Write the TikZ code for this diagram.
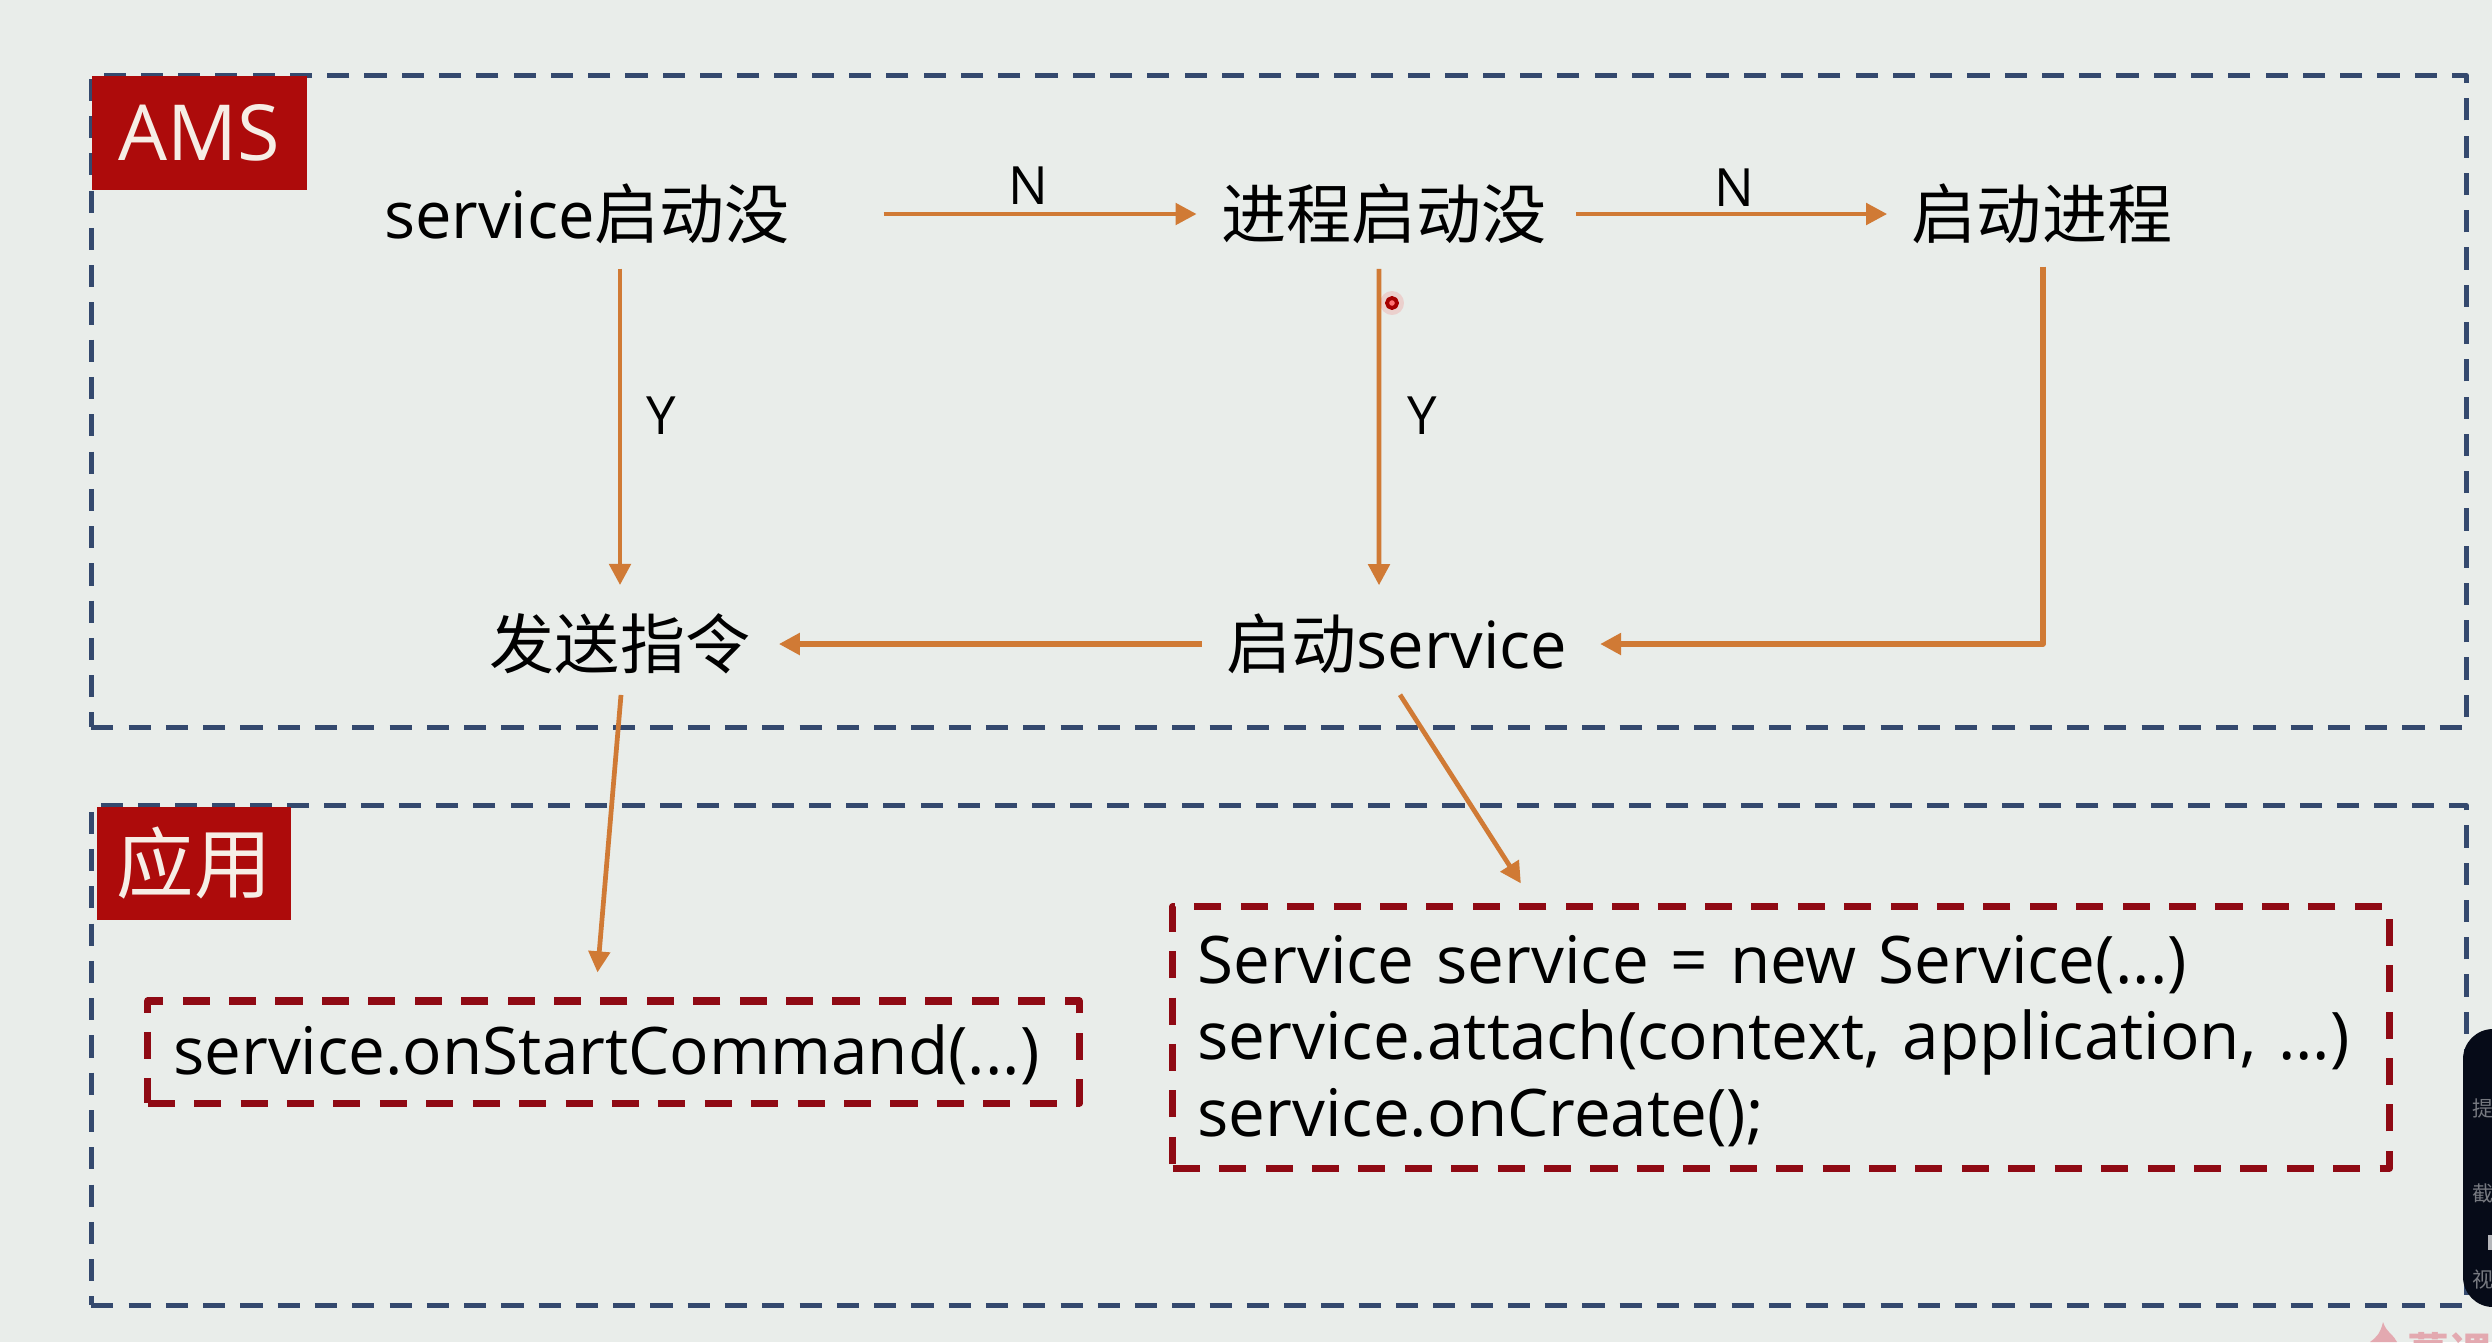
\documentclass[tikz,border=0pt]{standalone}
\usepackage{fontspec}
\usetikzlibrary{arrows.meta}
\setmainfont{Open Sans}
\newfontfamily\cjk{Noto Sans CJK SC}
\newcommand{\zh}[1]{{\cjk #1}}
\newcommand{\codestrut}{\rule{0pt}{15.7pt}}
\definecolor{pagebg}{HTML}{E9EDEA}
\definecolor{zoneblue}{HTML}{34496E}
\definecolor{codered}{HTML}{8F0A14}
\definecolor{tagred}{HTML}{AD0B0B}
\definecolor{tagtext}{HTML}{F6EEE6}
\definecolor{flow}{HTML}{D07A35}
\definecolor{panel}{HTML}{060B18}
\definecolor{markpink}{HTML}{E3A9B0}
\tikzset{
	zone/.style={draw=zoneblue, line width=1.4pt, dash pattern=on 6.3pt off 4.3pt, inner sep=0pt},
	tag/.style={fill=tagred, text=tagtext, inner sep=0pt, font=\fontsize{22}{26}\selectfont},
	step text/.style={inner sep=0pt, font=\fontsize{18.5}{22}\selectfont},
	code/.style={draw=codered, line width=2pt, dash pattern=on 7.7pt off 5.5pt, inner sep=0pt, font=\fontsize{18.65}{21.8}\selectfont, align=left},
	arrowlabel/.style={inner sep=0pt, font=\fontsize{15}{18}\selectfont},
	link/.style={draw=flow, line width=1.35pt, -{Triangle[length=6pt,width=6pt]}},
	thick link/.style={link, line width=1.5pt},
	sidetext/.style={inner sep=0pt, text=white!45!panel, font=\cjk\fontsize{6}{7}\selectfont}
}
\begin{document}
\begin{tikzpicture}[x=0.01cm, y=-0.01cm, line join=round]
	\clip (0,0) rectangle (2492,1342);
	\fill[pagebg] (0,0) rectangle (2492,1342);
	% zones
	\node[zone, minimum width=23.74cm, minimum height=6.51cm] (amszone) at (1279,401.5) {};
	\node[zone, minimum width=23.74cm, minimum height=4.99cm] (appzone) at (1279,1055.5) {};
	\node[tag, minimum width=2.15cm, minimum height=1.13cm] (amstag) at (199.5,133) {AMS};
	\node[tag, minimum width=1.94cm, minimum height=1.13cm] (apptag) at (194,863.5) {\zh{应用}};
	% steps
	\node[step text] (svc) at (587,214) {service\zh{启动没}};
	\node[step text] (chk) at (1384,214) {\zh{进程启动没}};
	\node[step text] (proc) at (2042,214) {\zh{启动进程}};
	\node[step text] (cmd) at (620,644) {\zh{发送指令}};
	\node[step text] (boot) at (1397,644) {\zh{启动}service};
	% code
	\node[code, minimum width=9.31cm, minimum height=1.02cm, text width=8.8cm] (onstart) at (613.5,1052) {\codestrut service.onStartCommand(...)};
	\node[code, minimum width=12.16cm, minimum height=2.61cm, text width=11.66cm] (create) at (1781,1037.5) {\codestrut Service service = new Service(...)\\service.attach(context, application, ...)\\service.onCreate();};
	% links
	\draw[link] ([xshift=0.93cm]svc.east) -- ([xshift=-0.24cm]chk.west) node[arrowlabel, pos=0.5, xshift=-0.12cm, yshift=0.28cm] (n1) {N};
	\draw[link] ([xshift=0.29cm]chk.east) -- ([xshift=-0.24cm]proc.west) node[arrowlabel, pos=0.5, xshift=0.03cm, yshift=0.26cm] (n2) {N};
	\draw[link] (cmd.north |- svc.south) ++(0,24) -- ([yshift=0.28cm]cmd.north) node[arrowlabel, pos=0.5, xshift=0.41cm, yshift=0.11cm] (y1) {Y};
	\draw[link] ([xshift=-0.05cm,yshift=-0.24cm]chk.south) -- ([xshift=-0.18cm,yshift=0.28cm]boot.north) node[arrowlabel, pos=0.5, xshift=0.43cm, yshift=0.11cm] (y2) {Y};
	\draw[thick link] ([xshift=0.01cm,yshift=-0.22cm]proc.south) |- ([xshift=0.32cm]boot.east);
	\draw[thick link] ([xshift=-0.24cm]boot.west) -- ([xshift=0.28cm]cmd.east);
	\draw[link] ([xshift=0.01cm,yshift=-0.2cm]cmd.south) -- ([xshift=-0.16cm,yshift=0.25cm]onstart.north);
	\draw[link] ([xshift=0.03cm,yshift=-0.2cm]boot.south) -- ([xshift=-2.6cm,yshift=0.2cm]create.north);
	% recording marker
	\node[circle, fill=red, opacity=0.12, minimum size=0.24cm, inner sep=0pt] (glow) at (1392,303) {};
	\node[circle, fill=red!55!white, draw=red!65!black, line width=1.1pt, minimum size=0.1cm, inner sep=0pt] (dot) at (glow) {};
	% player panel
	\fill[panel, rounded corners=0.3cm] (2463,1029) rectangle (2540,1307);
	\node[sidetext, anchor=west] (t1) at (2472,1108) {提};
	\node[sidetext, anchor=west] (t2) at (2472,1193) {截};
	\node[sidetext, anchor=west] (t3) at (2472,1279) {视};
	\fill[white!70!panel] (2488,1235) rectangle (2492,1250);
	% watermark
	\fill[markpink] (2383,1322) .. controls (2380,1335) and (2375,1338) .. (2370,1342) -- (2397,1342) .. controls (2394,1335) and (2386,1332) .. cycle;
	\node[inner sep=0pt, anchor=north west, text=markpink, font=\cjk\bfseries\fontsize{12}{14}\selectfont] (brand) at (2407,1332) {慕课};
\end{tikzpicture}
\end{document}
